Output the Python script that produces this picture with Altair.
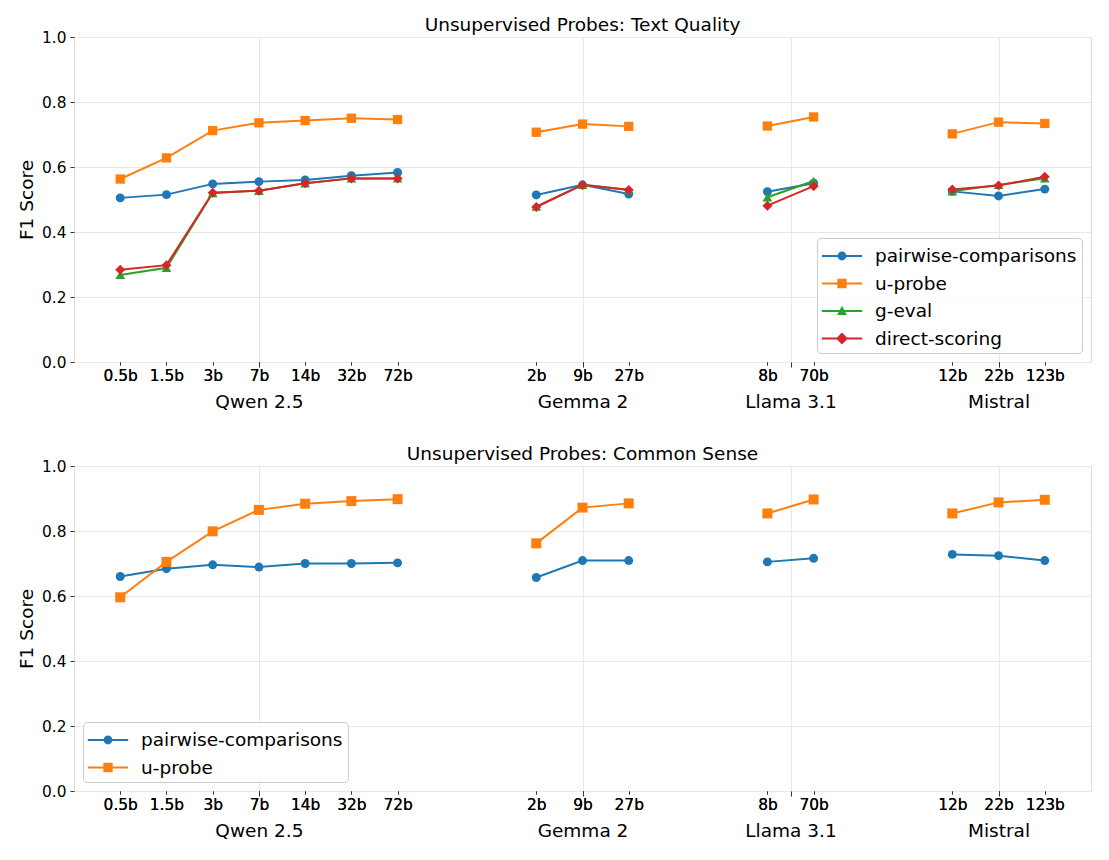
import altair as alt
import pandas as pd

# ---------------- data ----------------
GROUPS = ["Qwen 2.5", "Gemma 2", "Llama 3.1", "Mistral"]
GROUP_MODELS = [
    ["0.5b", "1.5b", "3b", "7b", "14b", "32b", "72b"],
    ["2b", "9b", "27b"],
    ["8b", "70b"],
    ["12b", "22b", "123b"],
]
GROUP_GAP = 2  # empty category slots between model families

SERIES = ["pairwise-comparisons", "u-probe", "g-eval", "direct-scoring"]
COLORS = ["#1f77b4", "#ff7f0e", "#2ca02c", "#d62728"]
SHAPES = ["circle", "square", "triangle-up", "diamond"]
SIZES = [80, 100, 95, 150]

# Text quality (values in model order: Qwen x7, Gemma x3, Llama x2, Mistral x3)
tq_pairwise = [0.505, 0.515, 0.548, 0.555, 0.560, 0.573, 0.583,
               0.514, 0.545, 0.517,
               0.524, 0.550,
               0.525, 0.511, 0.532]
tq_uprobe = [0.563, 0.628, 0.712, 0.736, 0.743, 0.750, 0.746,
             0.707, 0.732, 0.725,
             0.726, 0.754,
             0.702, 0.738, 0.734]
tq_geval = [0.268, 0.290, 0.520, 0.527, 0.550, 0.565, 0.565,
            0.478, 0.545, 0.530,
            0.507, 0.557,
            0.525, 0.545, 0.565]
tq_direct = [0.284, 0.298, 0.521, 0.527, 0.550, 0.565, 0.565,
             0.477, 0.545, 0.529,
             0.481, 0.541,
             0.531, 0.543, 0.570]

# Common sense
cs_pairwise = [0.660, 0.684, 0.696, 0.689, 0.700, 0.700, 0.702,
               0.657, 0.709, 0.709,
               0.705, 0.716,
               0.728, 0.724, 0.709]
cs_uprobe = [0.596, 0.705, 0.799, 0.865, 0.884, 0.892, 0.898,
             0.762, 0.872, 0.885,
             0.854, 0.897,
             0.854, 0.888, 0.896]

TITLE_TQ = "Unsupervised Probes: Text Quality"
TITLE_CS = "Unsupervised Probes: Common Sense"

FONT = "DejaVu Sans"
BIG = 18.5
SMALL = 15.4

# ---------------- category positions ----------------
positions, model_labels, model_groups = [], [], []
idx = 0
group_centers = []
for g, models in zip(GROUPS, GROUP_MODELS):
    start = idx
    for m in models:
        positions.append(idx)
        model_labels.append(m)
        model_groups.append(g)
        idx += 1
    group_centers.append((start + idx - 1) / 2)
    idx += GROUP_GAP
n_slots = idx - GROUP_GAP
x_domain = [-1, n_slots]

slot_labels = [""] * n_slots
for p, lab in zip(positions, model_labels):
    slot_labels[p] = lab
model_label_expr = "[" + ",".join("'%s'" % s for s in slot_labels) + "][datum.value]"
group_label_expr = ""
for c, g in zip(group_centers, GROUPS):
    group_label_expr += "datum.value == %s ? '%s' : " % (c, g)
group_label_expr += "''"


def make_df(series_values):
    rows = []
    for s, vals in series_values:
        for p, m, g, v in zip(positions, model_labels, model_groups, vals):
            rows.append({"series": s, "pos": p, "model": m, "group": g, "value": v})
    return pd.DataFrame(rows)


groups_df = pd.DataFrame({"center": group_centers, "name": GROUPS})

# legend symbols: line segment with marker (custom paths, unit = half symbol size)
LINE = "M-1.55,-0.075H1.55V0.075H-1.55Z"
LEGEND_PATHS = [
    LINE + "M0.34,0A0.34,0.34 0 1,1 -0.34,0A0.34,0.34 0 1,1 0.34,0Z",
    LINE + "M-0.36,-0.36H0.36V0.36H-0.36Z",
    LINE + "M0,-0.4L0.38,0.3L-0.38,0.3Z",
    LINE + "M0,-0.46L0.46,0L0,0.46L-0.46,0Z",
]


def make_panel(title, df, legend_orient):
    series = [s for s in SERIES if s in set(df["series"])]
    sidx = [SERIES.index(s) for s in series]
    colors = [COLORS[i] for i in sidx]
    shapes = [SHAPES[i] for i in sidx]
    sizes = [SIZES[i] for i in sidx]
    paths = [LEGEND_PATHS[i] for i in sidx]

    xscale = alt.Scale(domain=x_domain, nice=False, zero=False)
    yscale = alt.Scale(domain=[0, 1], nice=False)
    yaxis = alt.Axis(
        values=[0, 0.2, 0.4, 0.6, 0.8, 1.0], format=".1f", title="F1 Score",
        tickSize=4, labelPadding=4, labelFontSize=SMALL, titleFontSize=BIG,
        titleFontWeight="normal", titlePadding=5, grid=True,
        gridColor="#e8e8e8", domain=False, tickColor="#333",
        labelColor="black", titleColor="black", labelFont=FONT, titleFont=FONT,
    )

    legend = alt.Legend(
        title=None, orient=legend_orient, offset=9,
        labelFontSize=BIG, labelFont=FONT, labelColor="black", labelLimit=400,
        symbolSize=676, symbolStrokeWidth=0, symbolOffset=7, labelOffset=20,
        symbolOpacity=1, rowPadding=4.5, padding=5,
        strokeColor="#cccccc", fillColor="rgba(255,255,255,0.85)", cornerRadius=4,
    )

    color_scale = alt.Scale(domain=series, range=colors)
    shape_scale = alt.Scale(domain=series, range=shapes)
    size_scale = alt.Scale(domain=series, range=sizes)
    legend_shape_scale = alt.Scale(domain=series, range=paths)

    group_axis_layer = alt.Chart(groups_df).mark_point(opacity=0).encode(
        x=alt.X("center:Q", scale=xscale, axis=alt.Axis(
            values=group_centers, labelExpr=group_label_expr, orient="bottom",
            grid=True, gridColor="#e8e8e8", tickSize=5, tickColor="#333",
            labelPadding=25, labelFontSize=BIG, labelFont=FONT, labelColor="black",
            domain=False, title=None, labelFlush=False, labelOverlap=False)),
    )

    x_enc = alt.X("pos:Q", scale=xscale, axis=alt.Axis(
        values=positions, labelExpr=model_label_expr, orient="bottom",
        grid=False, tickSize=3, tickColor="#333", labelPadding=3,
        labelFontSize=SMALL, labelFont=FONT, labelColor="black",
        domain=False, title=None, labelFlush=False, labelOverlap=False))

    base = alt.Chart(df)
    lines = base.mark_line(strokeWidth=2).encode(
        x=x_enc,
        y=alt.Y("value:Q", scale=yscale, axis=yaxis),
        color=alt.Color("series:N", scale=color_scale, legend=None),
        detail="group:N",
    )
    points = base.mark_point(filled=True, opacity=1).encode(
        x=x_enc,
        y=alt.Y("value:Q", scale=yscale, axis=yaxis),
        color=alt.Color("series:N", scale=color_scale, legend=None),
        shape=alt.Shape("series:N", scale=shape_scale, legend=None),
        size=alt.Size("series:N", scale=size_scale, legend=None),
    )
    legend_df = pd.DataFrame({"series": series})
    legend_layer = alt.Chart(legend_df).mark_point(filled=True, opacity=0).encode(
        color=alt.Color("series:N", scale=color_scale, legend=legend),
        shape=alt.Shape("series:N", scale=legend_shape_scale, legend=legend),
    )

    return alt.layer(group_axis_layer, lines, points, legend_layer).resolve_axis(
        x="independent"
    ).resolve_scale(
        color="independent", shape="independent", size="independent"
    ).properties(
        width=1017, height=325,
        title=alt.TitleParams(title, fontSize=BIG, fontWeight="normal", font=FONT,
                              offset=-4, anchor="middle", color="black"),
    )


df_tq = make_df([(SERIES[0], tq_pairwise), (SERIES[1], tq_uprobe),
                 (SERIES[2], tq_geval), (SERIES[3], tq_direct)])
df_cs = make_df([(SERIES[0], cs_pairwise), (SERIES[1], cs_uprobe)])

top = make_panel(TITLE_TQ, df_tq, "bottom-right")
bottom = make_panel(TITLE_CS, df_cs, "bottom-left")

chart = alt.vconcat(top, bottom, spacing=33).properties(
    padding={"left": 9, "top": 7, "right": 5, "bottom": 5}
).configure_view(
    stroke="#555555", strokeWidth=1.5
).configure(font=FONT)

chart.save("out.html", embed_options={"renderer": "svg", "actions": False})
